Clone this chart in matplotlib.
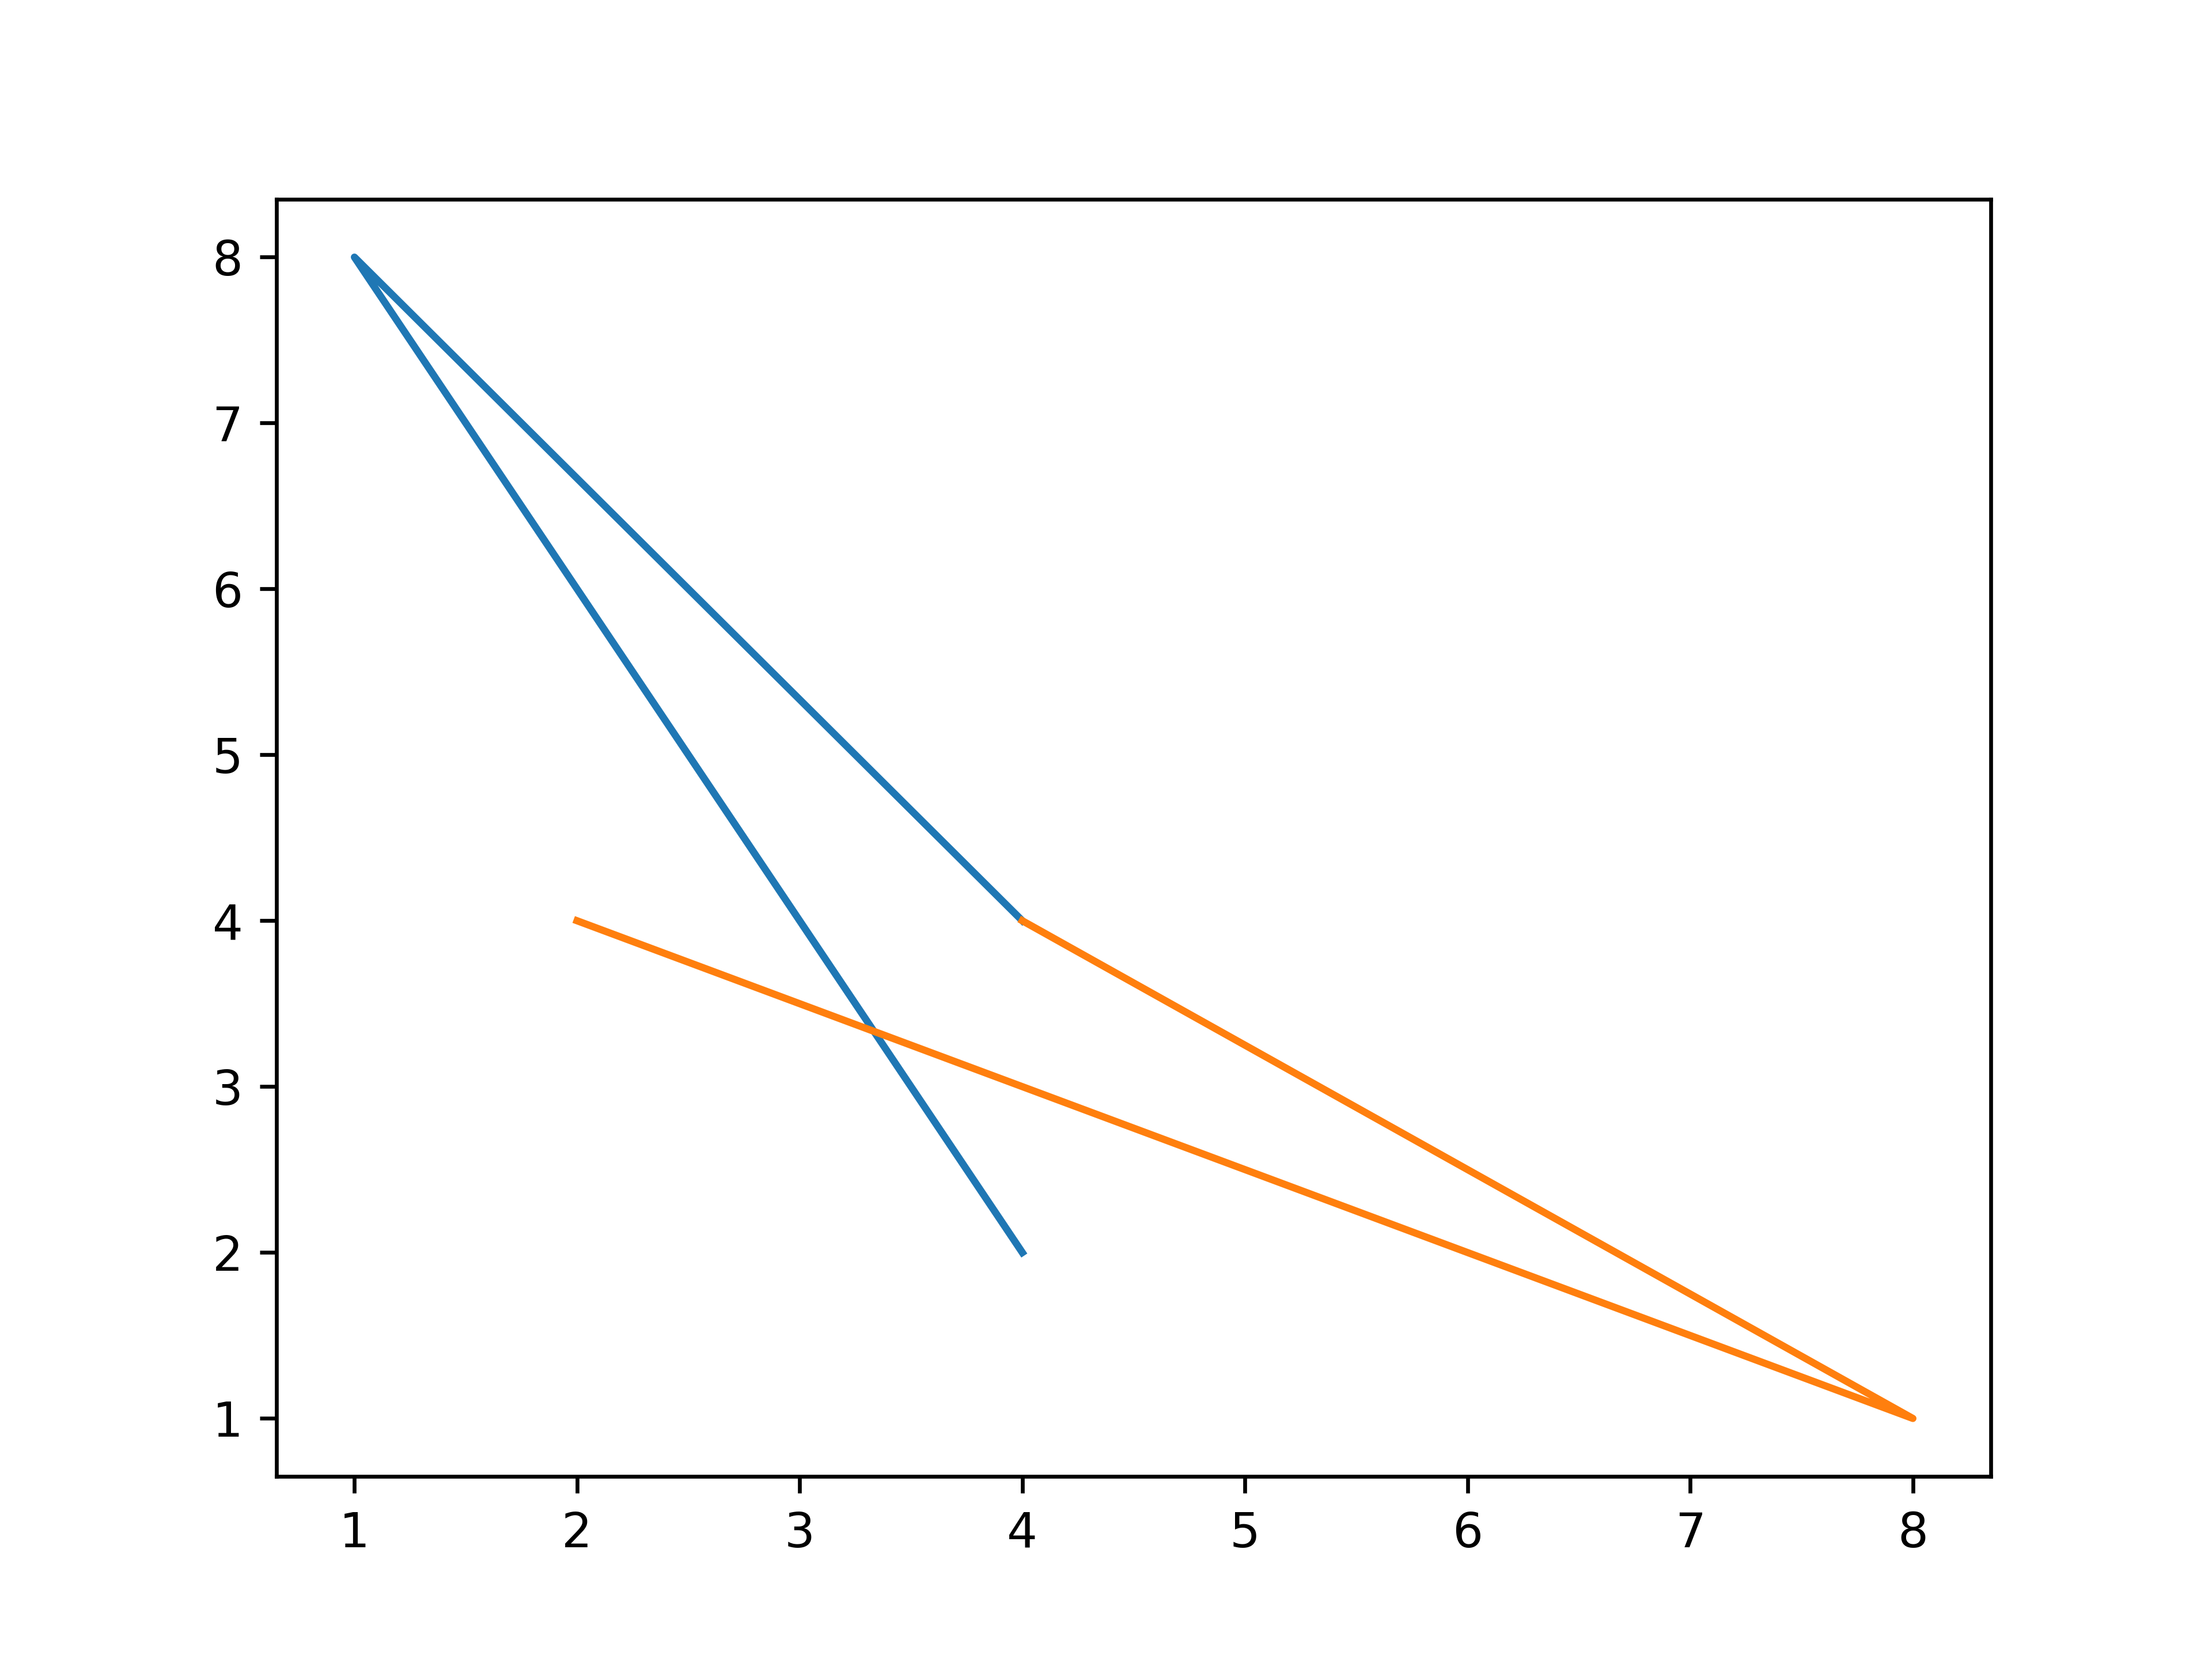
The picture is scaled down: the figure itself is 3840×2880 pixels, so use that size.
import matplotlib
matplotlib.use("Agg")
import matplotlib.pyplot as plt

# two polylines that meet at (4, 4)
blue_x = [4, 1, 4]
blue_y = [2, 8, 4]
orange_x = [4, 8, 2]
orange_y = [4, 1, 4]


def main():
    fig, ax = plt.subplots(figsize=(6.4, 4.8))
    ax.plot(blue_x, blue_y, color="C0")
    ax.plot(orange_x, orange_y, color="C1")
    fig.savefig("out.png", dpi=600)
    plt.close(fig)


if __name__ == "__main__":
    main()
